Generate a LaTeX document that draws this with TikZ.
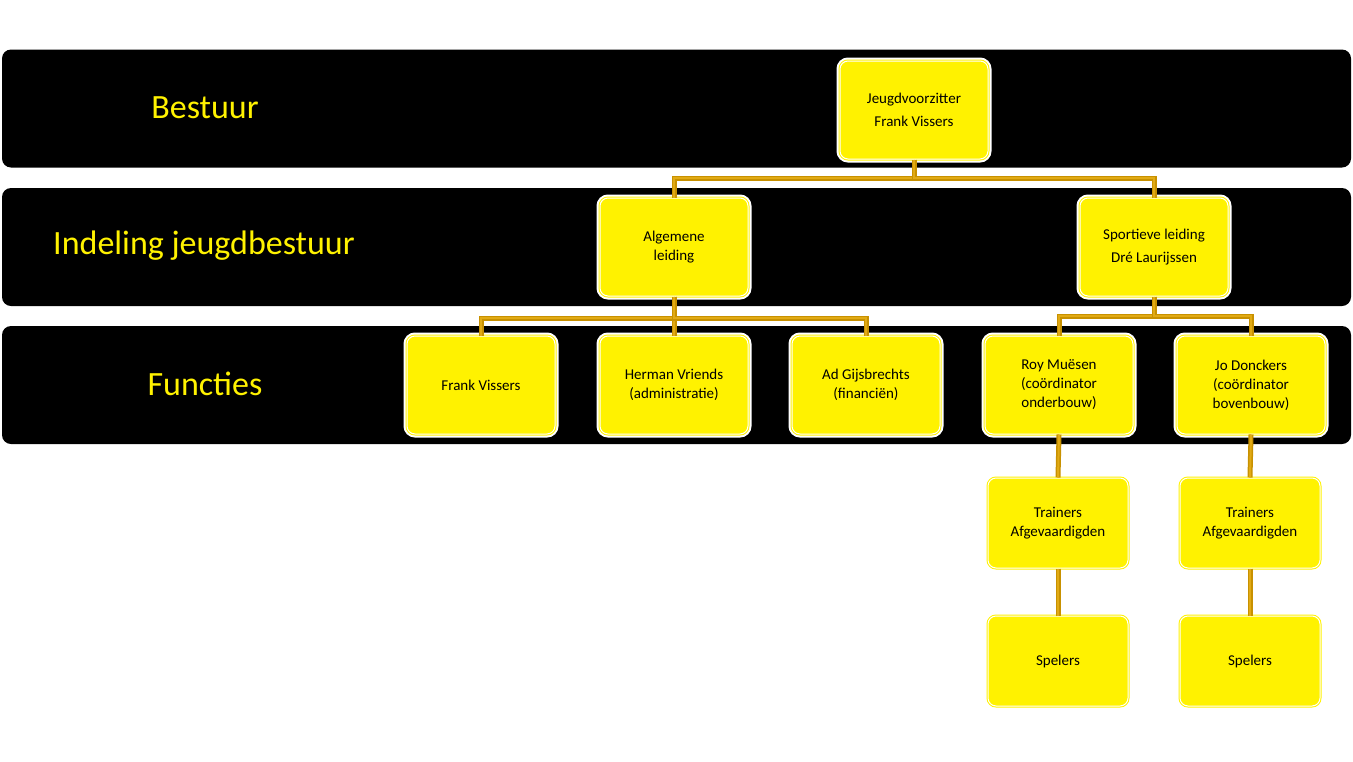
\documentclass[tikz,border=0pt]{standalone}
\usepackage{fontspec}
\setmainfont{Carlito}
\begin{document}
\begin{tikzpicture}[x=1pt,y=-1pt,
  band/.style={fill=black,rounded corners=9pt,minimum width=1349pt,minimum height=118pt,inner sep=0pt},
  lab/.style={text=yellow,font=\fontsize{34}{38}\selectfont},
  box/.style={fill=yellow,draw=yellow,double=white,double distance=1pt,line width=1pt,rounded corners=8pt,
    preaction={draw=white,line width=7pt},minimum width=148pt,minimum height=98pt,align=center,
    font=\fontsize{15}{19}\selectfont,inner sep=2pt},
  sbox/.style={box,minimum width=140pt,minimum height=90pt},
  con/.style={draw={rgb,255:red,200;green,145;blue,0},double={rgb,255:red,225;green,170;blue,20},double distance=2pt,line width=1.5pt}]
\useasboundingbox (0,0) rectangle (1353,761);
\node[band] (b1) at (676.5,108.5) {};
\node[band] (b2) at (676.5,247) {};
\node[band] (b3) at (676.5,385) {};
\node[lab] (l1) at (205,108) {Bestuur};
\node[lab] (l2) at (204,246) {Indeling jeugdbestuur};
\node[lab] (l3) at (205,384) {Functies};
\node[box] (jv) at (914,110) {Jeugdvoorzitter\\[4pt]Frank Vissers};
\node[box] (al) at (674,247) {Algemene\\leiding};
\node[box] (sp) at (1154,247) {Sportieve leiding\\[4pt]Dré Laurijssen};
\node[box] (fv) at (481,385) {Frank Vissers};
\node[box] (hv) at (674,385) {Herman Vriends\\(administratie)};
\node[box] (ad) at (866,385) {Ad Gijsbrechts\\(financiën)};
\node[box] (rm) at (1059,385) {Roy Muësen\\(coördinator\\onderbouw)};
\node[box] (jd) at (1251,385) {Jo Donckers\\(coördinator\\bovenbouw)};
\node[sbox] (t1) at (1058,523) {Trainers\\Afgevaardigden};
\node[sbox] (t2) at (1250,523) {Trainers\\Afgevaardigden};
\node[sbox] (s1) at (1058,661) {Spelers};
\node[sbox] (s2) at (1250,661) {Spelers};
\begin{scope}[on background layer/.style={}]
\end{scope}
\path[con] (jv.south) -- (jv.south |- 0,178) -| (al.north);
\path[con] (jv.south) -- (jv.south |- 0,178) -| (sp.north);
\path[con] (al.south) -- (al.south |- 0,318) -| (fv.north);
\path[con] (al.south) -- (hv.north);
\path[con] (al.south) -- (al.south |- 0,318) -| (ad.north);
\path[con] (sp.south) -- (sp.south |- 0,316) -| (rm.north);
\path[con] (sp.south) -- (sp.south |- 0,316) -| (jd.north);
\path[con] (rm.south) -- (t1.north);
\path[con] (jd.south) -- (t2.north);
\path[con] (t1.south) -- (s1.north);
\path[con] (t2.south) -- (s2.north);
\end{tikzpicture}
\end{document}
